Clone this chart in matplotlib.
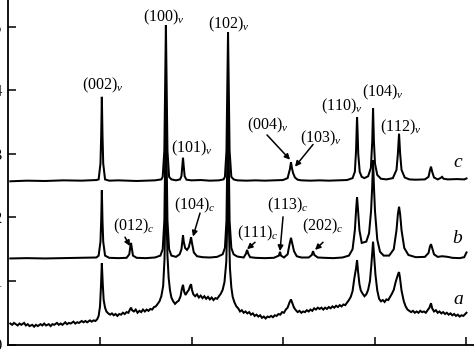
import matplotlib
matplotlib.use("Agg")
import matplotlib.pyplot as plt

plt.rcParams['font.family'] = ['Liberation Serif', 'DejaVu Serif']
plt.rcParams['mathtext.fontset'] = 'custom'
plt.rcParams['mathtext.rm'] = 'Liberation Serif'
plt.rcParams['mathtext.it'] = 'Liberation Serif:italic'

# ---------------- data (2-theta, intensity in arbitrary units) ----------------
c_x = [10.2, 12, 14, 16, 18, 19.6,
       19.85, 20.05, 20.13, 20.2, 20.27, 20.35, 20.55,
       21.0, 22, 23, 24, 25, 26, 26.7,
       26.85, 27.03, 27.12, 27.2, 27.28, 27.37, 27.55,
       27.8, 28.3, 28.75,
       28.9, 29.0, 29.07, 29.14, 29.25,
       29.45, 30, 31, 32, 33, 33.5,
       33.65, 33.82, 33.91, 33.99, 34.07, 34.16, 34.35,
       34.6, 35, 36, 37, 38, 39, 40, 40.5,
       40.75, 40.87, 40.97, 41.1, 41.3, 41.6,
       42, 43, 44, 45, 46, 47, 47.6,
       47.85, 47.98, 48.04, 48.09, 48.15, 48.22, 48.38, 48.6, 48.9,
       49.3, 49.6, 49.75, 49.84, 49.93, 50.05, 50.3, 50.7, 51.3,
       52.0, 52.4, 52.55, 52.68, 52.8, 52.95, 53.3, 53.8, 54.5,
       55.5, 55.9, 56.05, 56.17, 56.3, 56.5, 56.9, 57.2, 57.38, 57.55,
       58, 59, 59.8, 60.05]
c_y = [2.57, 2.58, 2.575, 2.585, 2.58, 2.59,
       2.60, 2.85, 3.30, 3.90, 3.30, 2.85, 2.60,
       2.58, 2.585, 2.58, 2.575, 2.58, 2.585, 2.60,
       2.64, 3.05, 4.10, 5.03, 4.10, 3.05, 2.64,
       2.60, 2.585, 2.60,
       2.65, 2.82, 2.94, 2.82, 2.65,
       2.595, 2.585, 2.59, 2.58, 2.585, 2.60,
       2.64, 3.05, 4.05, 4.92, 4.05, 3.05, 2.64,
       2.60, 2.585, 2.58, 2.585, 2.58, 2.585, 2.59, 2.62,
       2.76, 2.87, 2.78, 2.70, 2.63, 2.595,
       2.585, 2.58, 2.585, 2.58, 2.585, 2.59, 2.62,
       2.72, 3.05, 3.35, 3.58, 3.35, 3.00, 2.72, 2.64, 2.62,
       2.65, 2.78, 3.20, 3.72, 3.20, 2.85, 2.67, 2.61, 2.60,
       2.62, 2.75, 3.00, 3.32, 3.00, 2.75, 2.63, 2.60, 2.595,
       2.60, 2.64, 2.74, 2.80, 2.72, 2.63, 2.60, 2.62, 2.64, 2.61,
       2.60, 2.605, 2.60, 2.615]

b_x = [10.2, 12, 14, 16, 18, 19.6,
       19.85, 20.05, 20.13, 20.2, 20.27, 20.35, 20.55,
       21.0, 22, 22.9,
       23.2, 23.32, 23.39, 23.46, 23.6,
       24, 25, 26, 26.6,
       26.85, 27.03, 27.12, 27.2, 27.28, 27.37, 27.55,
       27.8, 28.3, 28.7,
       28.9, 29.0, 29.07, 29.15, 29.3, 29.5, 29.7, 29.85, 29.95, 30.05, 30.25,
       30.6, 31.2, 32, 32.8, 33.4,
       33.65, 33.82, 33.91, 33.99, 34.07, 34.16, 34.35,
       34.6, 35.0, 35.7,
       35.95, 36.07, 36.2, 36.4,
       37, 38, 39,
       39.55, 39.67, 39.78, 40.1,
       40.5, 40.7, 40.87, 41.0, 41.2, 41.5,
       42, 42.8,
       43.15, 43.28, 43.42, 43.8,
       44.5, 45.5, 46.5, 47.2,
       47.6, 47.85, 48.0, 48.09, 48.18, 48.35, 48.6, 49.1,
       49.4, 49.62, 49.75, 49.84, 49.93, 50.05, 50.3, 50.6, 51.0, 51.6,
       52.1, 52.4, 52.55, 52.68, 52.8, 52.95, 53.25, 53.7,
       54.5, 55.5, 55.9, 56.05, 56.17, 56.3, 56.5, 56.9,
       57.4, 58.0, 58.5, 59.3, 59.8, 60.05]
b_y = [1.355, 1.36, 1.355, 1.36, 1.365, 1.37,
       1.40, 1.62, 1.95, 2.43, 1.95, 1.62, 1.40,
       1.365, 1.36, 1.365,
       1.42, 1.55, 1.60, 1.53, 1.40,
       1.365, 1.36, 1.37, 1.40,
       1.50, 1.95, 2.90, 3.90, 2.90, 1.95, 1.50,
       1.40, 1.38, 1.42,
       1.50, 1.63, 1.72, 1.62, 1.52, 1.49, 1.53, 1.62, 1.69, 1.60, 1.45,
       1.39, 1.375, 1.37, 1.38, 1.42,
       1.52, 1.95, 2.90, 3.80, 2.90, 1.95, 1.52,
       1.42, 1.385, 1.37,
       1.43, 1.49, 1.43, 1.375,
       1.365, 1.36, 1.365,
       1.40, 1.46, 1.40, 1.37,
       1.42, 1.57, 1.68, 1.60, 1.47, 1.39,
       1.37, 1.37,
       1.41, 1.47, 1.41, 1.37,
       1.365, 1.36, 1.37, 1.40,
       1.50, 1.80, 2.15, 2.32, 2.15, 1.80, 1.60, 1.62,
       1.75, 2.10, 2.50, 2.90, 2.50, 2.10, 1.65, 1.46, 1.40, 1.40,
       1.50, 1.80, 2.05, 2.17, 2.05, 1.80, 1.52, 1.41,
       1.375, 1.38, 1.44, 1.54, 1.58, 1.52, 1.42, 1.38,
       1.39, 1.38, 1.365, 1.36, 1.375, 1.45]

a_x = [10.2, 10.4, 10.6, 10.8, 11.0, 11.2, 11.4, 11.7, 11.9, 12.1, 12.3, 12.6,
       12.8, 13.0, 13.2, 13.5, 13.7, 13.9, 14.1, 14.4, 14.6, 14.8, 15.0, 15.3,
       15.5, 15.7, 15.9, 16.2, 16.4, 16.6, 16.8, 17.1, 17.3, 17.5, 17.7, 18.0,
       18.2, 18.4, 18.6, 18.9, 19.1, 19.3, 19.5, 19.7, 19.85,
       20.0, 20.1, 20.2, 20.3, 20.4, 20.55, 20.7, 20.9, 21.1, 21.3, 21.5, 21.7,
       21.9, 22.1, 22.3, 22.5, 22.7, 22.9, 23.1, 23.3, 23.4, 23.5, 23.7, 23.9,
       24.1, 24.3, 24.5, 24.7, 24.9, 25.1, 25.3, 25.5, 25.7, 25.9, 26.1, 26.3,
       26.5, 26.7, 26.9, 27.05, 27.13, 27.2, 27.28, 27.37, 27.5, 27.65, 27.8,
       28.0, 28.2, 28.4, 28.6, 28.8, 28.95, 29.07, 29.2, 29.35, 29.5, 29.7,
       29.84, 29.95, 30.05, 30.2, 30.4, 30.6, 30.8, 31.0, 31.2, 31.4, 31.6,
       31.8, 32.0, 32.2, 32.4, 32.6, 32.8, 33.0, 33.2, 33.4, 33.6, 33.8, 33.9,
       33.99, 34.08, 34.2, 34.35, 34.5, 34.7, 34.9, 35.1, 35.3, 35.5, 35.7,
       35.9, 36.1, 36.3, 36.5, 36.7, 36.9, 37.1, 37.3, 37.5, 37.7, 37.9, 38.1,
       38.3, 38.5, 38.7, 38.9, 39.1, 39.3, 39.5, 39.7, 39.9, 40.1, 40.3, 40.5,
       40.7, 40.87, 41.0, 41.2, 41.4, 41.6, 41.8, 42.0, 42.2, 42.4, 42.6, 42.8,
       43.0, 43.2, 43.4, 43.6, 43.8, 44.0, 44.2, 44.4, 44.6, 44.8, 45.0, 45.2,
       45.4, 45.6, 45.8, 46.0, 46.2, 46.4, 46.6, 46.8, 47.0, 47.2, 47.4, 47.6,
       47.8, 47.98, 48.09, 48.2, 48.35, 48.5, 48.7, 48.9, 49.1, 49.3, 49.5,
       49.65, 49.75, 49.84, 49.95, 50.1, 50.3, 50.5, 50.7, 50.9, 51.1, 51.3,
       51.5, 51.7, 51.9, 52.1, 52.3, 52.45, 52.6, 52.68, 52.78, 52.95, 53.2,
       53.4, 53.6, 53.8, 54.0, 54.2, 54.4, 54.6, 54.8, 55.0, 55.2, 55.4, 55.6,
       55.8, 56.0, 56.17, 56.3, 56.5, 56.7, 56.9, 57.1, 57.3, 57.5, 57.7, 57.9,
       58.1, 58.3, 58.5, 58.7, 58.9, 59.1, 59.3, 59.5, 59.7, 59.9, 60.05]
a_y = [0.33, 0.31, 0.34, 0.32, 0.30, 0.33, 0.31, 0.34, 0.30, 0.32, 0.29, 0.31,
       0.28, 0.31, 0.29, 0.32, 0.30, 0.33, 0.30, 0.32, 0.29, 0.32, 0.31, 0.34,
       0.31, 0.33, 0.31, 0.35, 0.32, 0.34, 0.33, 0.36, 0.33, 0.35, 0.34, 0.37,
       0.35, 0.37, 0.35, 0.38, 0.36, 0.38, 0.37, 0.40, 0.45,
       0.60, 0.90, 1.28, 0.95, 0.70, 0.58, 0.52, 0.49, 0.47, 0.49, 0.46, 0.48,
       0.45, 0.48, 0.47, 0.50, 0.48, 0.51, 0.50, 0.56, 0.58, 0.54, 0.52, 0.55,
       0.50, 0.53, 0.51, 0.55, 0.52, 0.55, 0.53, 0.56, 0.55, 0.59, 0.60, 0.64,
       0.68, 0.76, 0.92, 1.35, 2.00, 2.65, 2.00, 1.40, 1.05, 0.85, 0.74,
       0.68, 0.64, 0.67, 0.69, 0.76, 0.88, 0.94, 0.83, 0.78, 0.82, 0.86,
       0.92, 0.95, 0.86, 0.79, 0.76, 0.79, 0.74, 0.77, 0.73, 0.76, 0.72,
       0.75, 0.71, 0.74, 0.70, 0.73, 0.72, 0.76, 0.80, 0.86, 0.98, 1.30, 1.90,
       2.65, 1.90, 1.20, 0.90, 0.75, 0.66, 0.60, 0.57, 0.52, 0.54, 0.50,
       0.52, 0.49, 0.51, 0.47, 0.49, 0.45, 0.47, 0.44, 0.46, 0.42, 0.44, 0.41,
       0.44, 0.43, 0.45, 0.43, 0.46, 0.45, 0.48, 0.47, 0.51, 0.50, 0.55, 0.58,
       0.66, 0.71, 0.66, 0.58, 0.54, 0.51, 0.53, 0.50, 0.52, 0.51, 0.54, 0.52,
       0.55, 0.53, 0.57, 0.55, 0.58, 0.56, 0.58, 0.55, 0.58, 0.56, 0.59, 0.57,
       0.60, 0.58, 0.61, 0.59, 0.62, 0.60, 0.63, 0.62, 0.66, 0.70, 0.75, 0.84,
       1.05, 1.20, 1.33, 1.15, 0.95, 0.85, 0.80, 0.76, 0.79, 0.86, 1.00,
       1.25, 1.45, 1.62, 1.40, 1.10, 0.85, 0.72, 0.68, 0.70, 0.67, 0.71,
       0.70, 0.75, 0.80, 0.86, 0.98, 1.05, 1.12, 1.14, 1.05, 0.85, 0.68,
       0.60, 0.55, 0.53, 0.51, 0.53, 0.50, 0.52, 0.50, 0.53, 0.51, 0.52, 0.50,
       0.54, 0.58, 0.65, 0.57, 0.52, 0.54, 0.50, 0.52, 0.49, 0.51, 0.48, 0.50,
       0.47, 0.49, 0.46, 0.48, 0.45, 0.47, 0.44, 0.46, 0.45, 0.48, 0.50]

y_ticks = [0, 1, 2, 3, 4, 5]
y_tick_labels = ['0', '1', '2', '3', '4', '5']
x_ticks = [20, 30, 40, 50, 60]

# peak labels: (text, text x, text baseline y)
v_labels = [
    ('(002)', 18.03, 4.02),
    ('(100)', 24.70, 5.09),
    ('(102)', 31.80, 4.98),
    ('(101)', 27.76, 3.03),
    ('(004)', 36.07, 3.39),
    ('(103)', 41.86, 3.19),
    ('(110)', 44.15, 3.69),
    ('(104)', 48.63, 3.90),
    ('(112)', 50.60, 3.35),
]
c_labels = [
    ('(012)', 21.42, 1.80),
    ('(104)', 28.09, 2.12),
    ('(111)', 34.97, 1.69),
    ('(113)', 38.25, 2.13),
    ('(202)', 42.08, 1.79),
]
arrows = [  # (start x, start y, tip x, tip y)
    (22.73, 1.69, 23.28, 1.55),
    (30.93, 2.07, 30.16, 1.70),
    (36.94, 1.61, 36.07, 1.50),
    (40.00, 2.01, 39.67, 1.47),
    (44.37, 1.61, 43.50, 1.49),
    (38.25, 3.30, 40.77, 2.91),
    (43.28, 3.15, 41.31, 2.80),
]
trace_names = [('c', 58.58, 2.80), ('b', 58.47, 1.60), ('a', 58.58, 0.64)]

# ---------------- figure ----------------
W, H = 474, 351
fig = plt.figure(figsize=(W / 100, H / 100), dpi=100)
ax = fig.add_axes([7.5 / W, 6.5 / H, 1 - 7.5 / W, 344.5 / H])

for xs, ys in [(c_x, c_y), (b_x, b_y), (a_x, a_y)]:
    ax.plot(xs, ys, color='black', lw=1.45, solid_joinstyle='miter')

ax.set_xlim(9.89, 60.87)
ax.set_ylim(0, 5.425)
ax.spines['top'].set_visible(False)
ax.spines['right'].set_visible(False)
for s in ['left', 'bottom']:
    ax.spines[s].set_linewidth(1.3)
ax.set_xticks(x_ticks)
ax.set_yticks(y_ticks)
ax.set_yticklabels(y_tick_labels)
ax.tick_params(axis='x', direction='in', length=5.5, width=1.1, labelbottom=False)
ax.tick_params(axis='y', direction='in', length=6, width=1.1, pad=4.3, labelsize=12)

fs = 11.5
for t, x, y in v_labels:
    ax.text(x, y, t + r'$_{v}$', fontsize=fs, ha='left', va='baseline')
for t, x, y in c_labels:
    ax.text(x, y, t + r'$_{c}$', fontsize=fs, ha='left', va='baseline')
for x0, y0, x1, y1 in arrows:
    ax.annotate('', xy=(x1, y1), xytext=(x0, y0),
                arrowprops=dict(arrowstyle='-|>', color='black', lw=1.1,
                                mutation_scale=8, shrinkA=0, shrinkB=0))
for t, x, y in trace_names:
    ax.text(x, y, t, fontsize=14, style='italic', ha='left', va='baseline')

fig.savefig('out.png', dpi=100)
